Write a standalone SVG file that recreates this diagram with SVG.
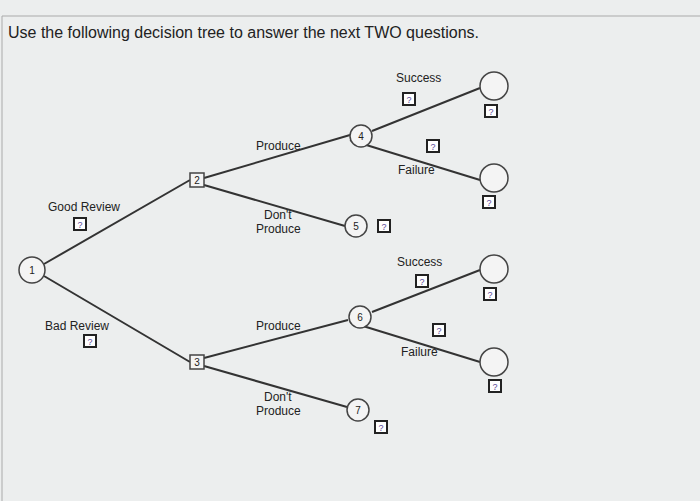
<svg xmlns="http://www.w3.org/2000/svg" width="700" height="501" viewBox="0 0 700 501">
<style>
.l{stroke:#333;stroke-width:2;fill:none}
.c{fill:#f4f4f4;stroke:#444;stroke-width:1.5}
.t{font-family:"Liberation Sans",Arial,sans-serif;font-size:12px;fill:#222}
.n{font-family:"Liberation Sans",Arial,sans-serif;font-size:10px;fill:#222;text-anchor:middle}
.q{fill:#fff;stroke:#222;stroke-width:2}
.qm{font-family:"Liberation Sans",Arial,sans-serif;font-size:9px;fill:#5a4a9a;text-anchor:middle}
</style>
<defs>
<g id="qb"><rect class="q" x="-6" y="-6" width="12" height="12"/><text class="qm" y="4">?</text></g>
</defs>
<rect width="700" height="501" fill="#eceeee"/>
<path d="M2 501V16H700" fill="none" stroke="#aaa"/>
<text x="8" y="38" font-family="Liberation Sans,Arial,sans-serif" font-size="16" fill="#222">Use the following decision tree to answer the next TWO questions.</text>
<g id="connectors">
<path class="l" d="M44 264L190 180M44 276L190 362M204 178L350 135M204 185L345 226M204 358L348 320M204 366L347 407M372 131L480 88M350 140L480 180M372 312L480 270M350 322L480 362"/>
</g>
<g id="node1"><circle class="c" cx="32" cy="270" r="13"/><text class="n" x="32" y="274">1</text></g>
<g id="node2"><rect class="c" x="190" y="173" width="14" height="14"/><text class="n" x="197" y="184">2</text></g>
<g id="node3"><rect class="c" x="190" y="355" width="14" height="14"/><text class="n" x="197" y="366">3</text></g>
<g id="node4"><circle class="c" cx="361" cy="136" r="11"/><text class="n" x="361" y="140">4</text></g>
<g id="node5"><circle class="c" cx="356" cy="226" r="11"/><text class="n" x="356" y="230">5</text><use href="#qb" x="384" y="226"/></g>
<g id="node6"><circle class="c" cx="360" cy="317" r="11"/><text class="n" x="360" y="321">6</text></g>
<g id="node7"><circle class="c" cx="358" cy="410" r="11"/><text class="n" x="358" y="414">7</text><use href="#qb" x="381" y="427"/></g>
<g id="t1"><circle class="c" cx="494" cy="86" r="14"/><use href="#qb" x="491" y="111"/></g>
<g id="t2"><circle class="c" cx="494" cy="178" r="14"/><use href="#qb" x="489" y="202"/></g>
<g id="t3"><circle class="c" cx="494" cy="269" r="14"/><use href="#qb" x="490" y="294"/></g>
<g id="t4"><circle class="c" cx="494" cy="362" r="14"/><use href="#qb" x="495" y="386"/></g>
<g id="labels">
<text class="t" x="48" y="211">Good Review</text><use href="#qb" x="80" y="224"/>
<text class="t" x="45" y="330">Bad Review</text><use href="#qb" x="90" y="341"/>
<text class="t" x="256" y="150">Produce</text>
<text class="t" x="264" y="219">Don't</text><text class="t" x="256" y="233">Produce</text>
<text class="t" x="256" y="330">Produce</text>
<text class="t" x="264" y="401">Don't</text><text class="t" x="256" y="415">Produce</text>
<text class="t" x="396" y="82">Success</text><use href="#qb" x="409" y="99"/>
<use href="#qb" x="433" y="146"/><text class="t" x="398" y="174">Failure</text>
<text class="t" x="397" y="266">Success</text><use href="#qb" x="422" y="281"/>
<use href="#qb" x="439" y="330"/><text class="t" x="401" y="356">Failure</text>
</g>
</svg>
